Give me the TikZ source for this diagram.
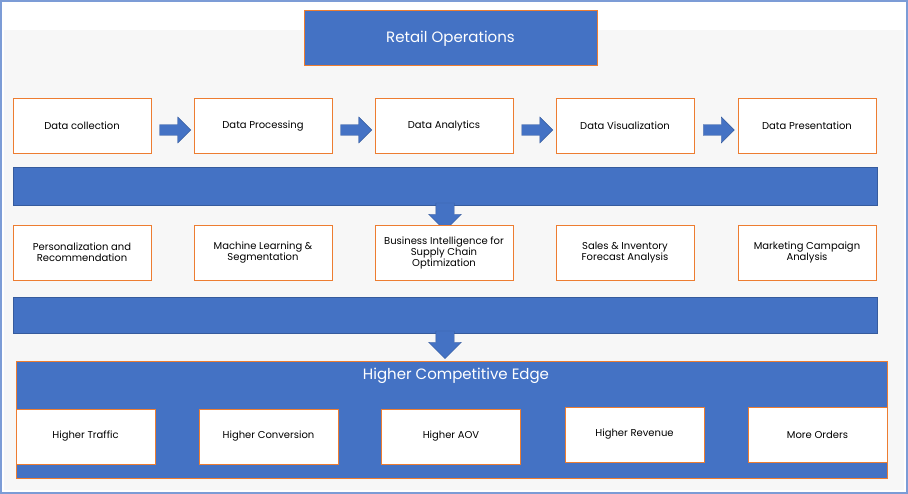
\documentclass[tikz,border=0pt]{standalone}
\usepackage{fontspec}
\setmainfont{Poppins}
\usetikzlibrary{shapes.arrows}
\definecolor{bandblue}{RGB}{68,114,196}
\definecolor{edgeorange}{RGB}{237,125,49}
\tikzset{
  stagebox/.style={draw=edgeorange, fill=white, line width=0.8pt, minimum width=138pt, minimum height=55pt, align=center, font=\fontsize{10}{11}\selectfont},
  band/.style={draw=bandblue!80!black, fill=bandblue, line width=0.6pt},
  rarrow/.style={single arrow, draw=bandblue!80!black, fill=bandblue, minimum height=31pt, minimum width=26pt, inner sep=5pt, outer sep=0pt},
  darrow/.style={rarrow, shape border rotate=270, minimum height=22pt, minimum width=32pt, inner sep=9pt}
}
\begin{document}
\begin{tikzpicture}[x=1pt,y=-1pt]
\useasboundingbox (0,0) rectangle (908,494);
% frame and background
\fill[black!3] (4,30) rectangle (904,490);
\draw[bandblue!70, line width=1.2pt] (1,1) rectangle (907,493);
\node[draw=edgeorange, fill=bandblue, line width=1pt, minimum width=293pt, minimum height=55pt, text=white, font=\fontsize{15}{16}\selectfont] (title) at (450.5,38.5) {Retail Operations};
% pipeline
\foreach \x/\name/\txt in {82/dc/Data collection, 263/dp/Data Processing, 444/da/Data Analytics, 625/dv/Data Visualization, 807/dr/Data Presentation}
  \node[stagebox] (\name) at (\x,126) {\txt};
\foreach \a/\b in {dc/dp, dp/da, da/dv, dv/dr}
  \path (\a.east) -- (\b.west) node[rarrow, midway, yshift=-4pt] {};
\fill[band] (13,167) rectangle (877,205);
\node[darrow, anchor=north] (d1) at (445,203) {};
% applications
\foreach \x/\name/\txt in {82/pr/Personalization and\\Recommendation, 263/ml/Machine Learning \&\\Segmentation, 444/bi/Business Intelligence for\\Supply Chain\\Optimization, 625/si/Sales \& Inventory\\Forecast Analysis, 807/mc/Marketing Campaign\\Analysis}
  \node[stagebox] (\name) at (\x,252.5) {\txt};
\fill[band] (13,297) rectangle (877,333);
\node[darrow, anchor=north] (d2) at (445,331) {};
% outcomes
\draw[draw=edgeorange, fill=bandblue, line width=0.8pt] (16,361) rectangle (887,478);
\node[text=white, font=\fontsize{15}{16}\selectfont] (edge) at (456,376) {Higher Competitive Edge};
\foreach \x/\y/\name/\txt in {85.5/436.5/ht/Higher Traffic, 268.5/436.5/hc/Higher Conversion, 451/436.5/ha/Higher AOV, 634.5/434.5/hr/Higher Revenue, 817.5/434.5/mo/More Orders}
  \node[stagebox, minimum width=139pt] (\name) at (\x,\y) {\txt};
\end{tikzpicture}
\end{document}
